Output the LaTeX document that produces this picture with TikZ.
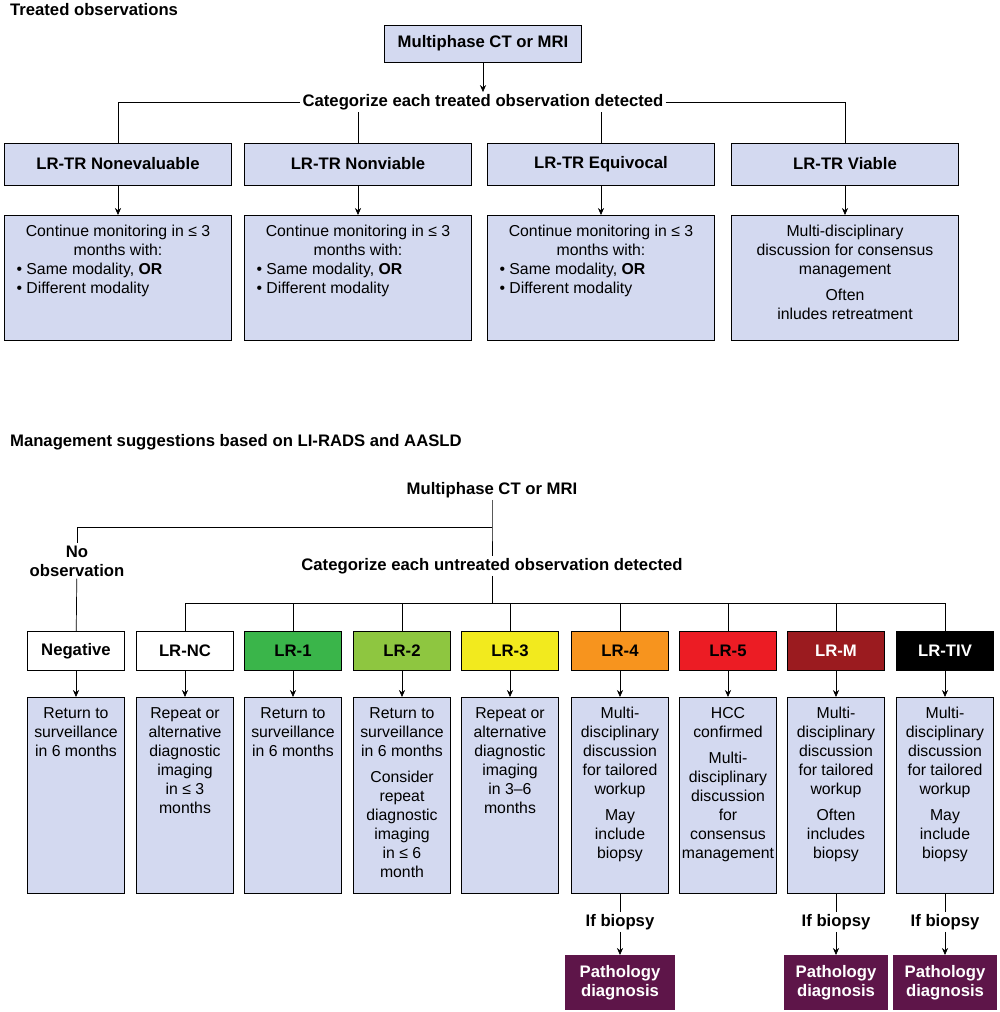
\documentclass[tikz,border=0pt]{standalone}
\usepackage{fontspec}
\setmainfont{Liberation Sans}
\usetikzlibrary{arrows.meta,positioning}
\definecolor{boxblue}{HTML}{D3D9F0}
\definecolor{lrone}{HTML}{3AB54A}
\definecolor{lrtwo}{HTML}{8EC640}
\definecolor{lrthree}{HTML}{F2EA1E}
\definecolor{lrfour}{HTML}{F7941E}
\definecolor{lrfive}{HTML}{EC1C24}
\definecolor{lrm}{HTML}{9B1B1F}
\definecolor{patho}{HTML}{5E1549}
\tikzset{
  hbox/.style={draw, fill=boxblue, font=\fontsize{9.5}{11}\selectfont\bfseries, inner sep=0pt},
  dbox/.style={draw, fill=boxblue, inner sep=0pt},
  dtext/.style={font=\fontsize{9}{10.8}\selectfont, align=center, inner sep=0pt},
  btext/.style={font=\fontsize{9.5}{11}\selectfont\bfseries, align=center, inner sep=1pt},
  cbox/.style={draw, font=\fontsize{9.5}{11}\selectfont\bfseries, inner sep=0pt,
    minimum width=97\pgflinewidth*0+1.94cm, minimum height=0.78cm},
  pbox/.style={fill=patho, text=white, font=\fontsize{9.5}{11}\selectfont\bfseries,
    align=center, inner sep=0pt, minimum height=1.1cm},
  arr/.style={-{Stealth[length=4pt,width=3.5pt]}, thin},
}
\begin{document}
\begin{tikzpicture}[x=0.02cm,y=-0.02cm]
    \useasboundingbox (0,0) rectangle (1000,1012);

    % Treated observations
    \node[anchor=west, btext] (ttitle) at (8,10) {Treated observations};
    \node[hbox, minimum width=3.94cm, minimum height=0.74cm] (tmulti) at (483,43.5) {Multiphase CT or MRI};
    \node[btext] (tcat) at (483,102) {Categorize each treated observation detected};
    \draw[arr] (tmulti) -- (tcat);

    % Category boxes
    \foreach \n/\x/\t in {1/118/LR-TR Nonevaluable, 2/358/LR-TR Nonviable,
                          3/601/LR-TR Equivocal, 4/845/LR-TR Viable} {
        \node[hbox, minimum width=4.54cm, minimum height=0.84cm] (tr\n) at (\x,164) {\t};
        \node[dbox, minimum width=4.54cm, minimum height=2.5cm, anchor=north] (td\n) at (\x,215) {};
        \draw[arr] (tr\n) -- (td\n);
    }
    \draw (tr1.north) -- (tr1.north |- tcat) -- (tcat.west);
    \draw (tcat.east) -- (tr4.north |- tcat) -- (tr4.north);
    \draw (tr2.north) -- (tr2.north |- tcat.south);
    \draw (tr3.north) -- (tr3.north |- tcat.south);

    % Monitoring texts
    \foreach \n in {1,2,3} {
        \node[dtext, anchor=north] (tm\n) at ([yshift=-0.2cm]td\n.north) {Continue monitoring in ≤ 3\\months with:};
        \node[dtext, align=left, anchor=north west] (tb\n) at ([xshift=0.24cm,yshift=-0.12cm]td\n.west |- tm\n.south)
            {• Same modality, \textbf{OR}\\• Different modality};
    }
    \node[dtext, anchor=north] (tv) at ([yshift=-0.2cm]td4.north)
        {Multi-disciplinary\\discussion for consensus\\management\\[4pt]Often\\inludes retreatment};

    % Management suggestions
    \node[anchor=west, btext] (mtitle) at (8,442) {Management suggestions based on LI-RADS and AASLD};
    \node[btext] (mmulti) at (492,490) {Multiphase CT or MRI};
    \node[btext] (noobs) at (77,561) {No\\observation};
    \node[btext] (mcat) at (492,566) {Categorize each untreated observation detected};
    \coordinate (split) at (492,527);
    \draw (mmulti) -- (split) -- (mcat);
    \draw (split) -- (noobs.north |- split) -- (noobs);
    \coordinate (bar) at (492,603);
    \draw (mcat) -- (bar);

    \foreach \n/\x/\t/\c/\tc in {1/76/Negative/white/black, 2/185/LR-NC/white/black,
        3/293/LR-1/lrone/black, 4/402/LR-2/lrtwo/black, 5/510/LR-3/lrthree/black,
        6/620/LR-4/lrfour/black, 7/728/LR-5/lrfive/black, 8/836/LR-M/lrm/white,
        9/945/LR-TIV/black/white} {
        \node[cbox, fill=\c, text=\tc] (c\n) at (\x,651) {\t};
        \node[dbox, minimum width=1.94cm, minimum height=3.92cm, anchor=north] (d\n) at (\x,697) {};
        \draw[arr] (c\n) -- (d\n);
    }
    \foreach \n in {3,4,5,6,7,8} {
        \draw (c\n.north |- bar) -- (c\n.north);
    }
    \draw (c2.north) -- (c2.north |- bar) -- (c9.north |- bar) -- (c9.north);
    \draw (noobs) -- (c1);
    \foreach \n/\t in {1/{Return to\\surveillance\\in 6 months},
        2/{Repeat or\\alternative\\diagnostic\\imaging\\in ≤ 3\\months},
        3/{Return to\\surveillance\\in 6 months},
        4/{Return to\\surveillance\\in 6 months\\[4pt]Consider\\repeat\\diagnostic\\imaging\\in ≤ 6\\month},
        5/{Repeat or\\alternative\\diagnostic\\imaging\\in 3–6\\months},
        6/{Multi-\\disciplinary\\discussion\\for tailored\\workup\\[4pt]May\\include\\biopsy},
        7/{HCC\\confirmed\\[4pt]Multi-\\disciplinary\\discussion\\for\\consensus\\management},
        8/{Multi-\\disciplinary\\discussion\\for tailored\\workup\\[4pt]Often\\includes\\biopsy},
        9/{Multi-\\disciplinary\\discussion\\for tailored\\workup\\[4pt]May\\include\\biopsy}} {
        \node[dtext, anchor=north] (dt\n) at ([yshift=-0.2cm]d\n.north) {\t};
    }

    % Biopsy branches
    \foreach \n/\w in {6/2.2cm, 8/2.1cm, 9/2.1cm} {
        \node[btext] (ifb\n) at (d\n.south |- 0,922) {If biopsy};
        \node[pbox, minimum width=\w, anchor=north] (p\n) at (d\n.south |- 0,955) {Pathology\\diagnosis};
        \draw (d\n) -- (ifb\n);
        \draw[arr] (ifb\n) -- (p\n);
    }

\end{tikzpicture}
\end{document}
